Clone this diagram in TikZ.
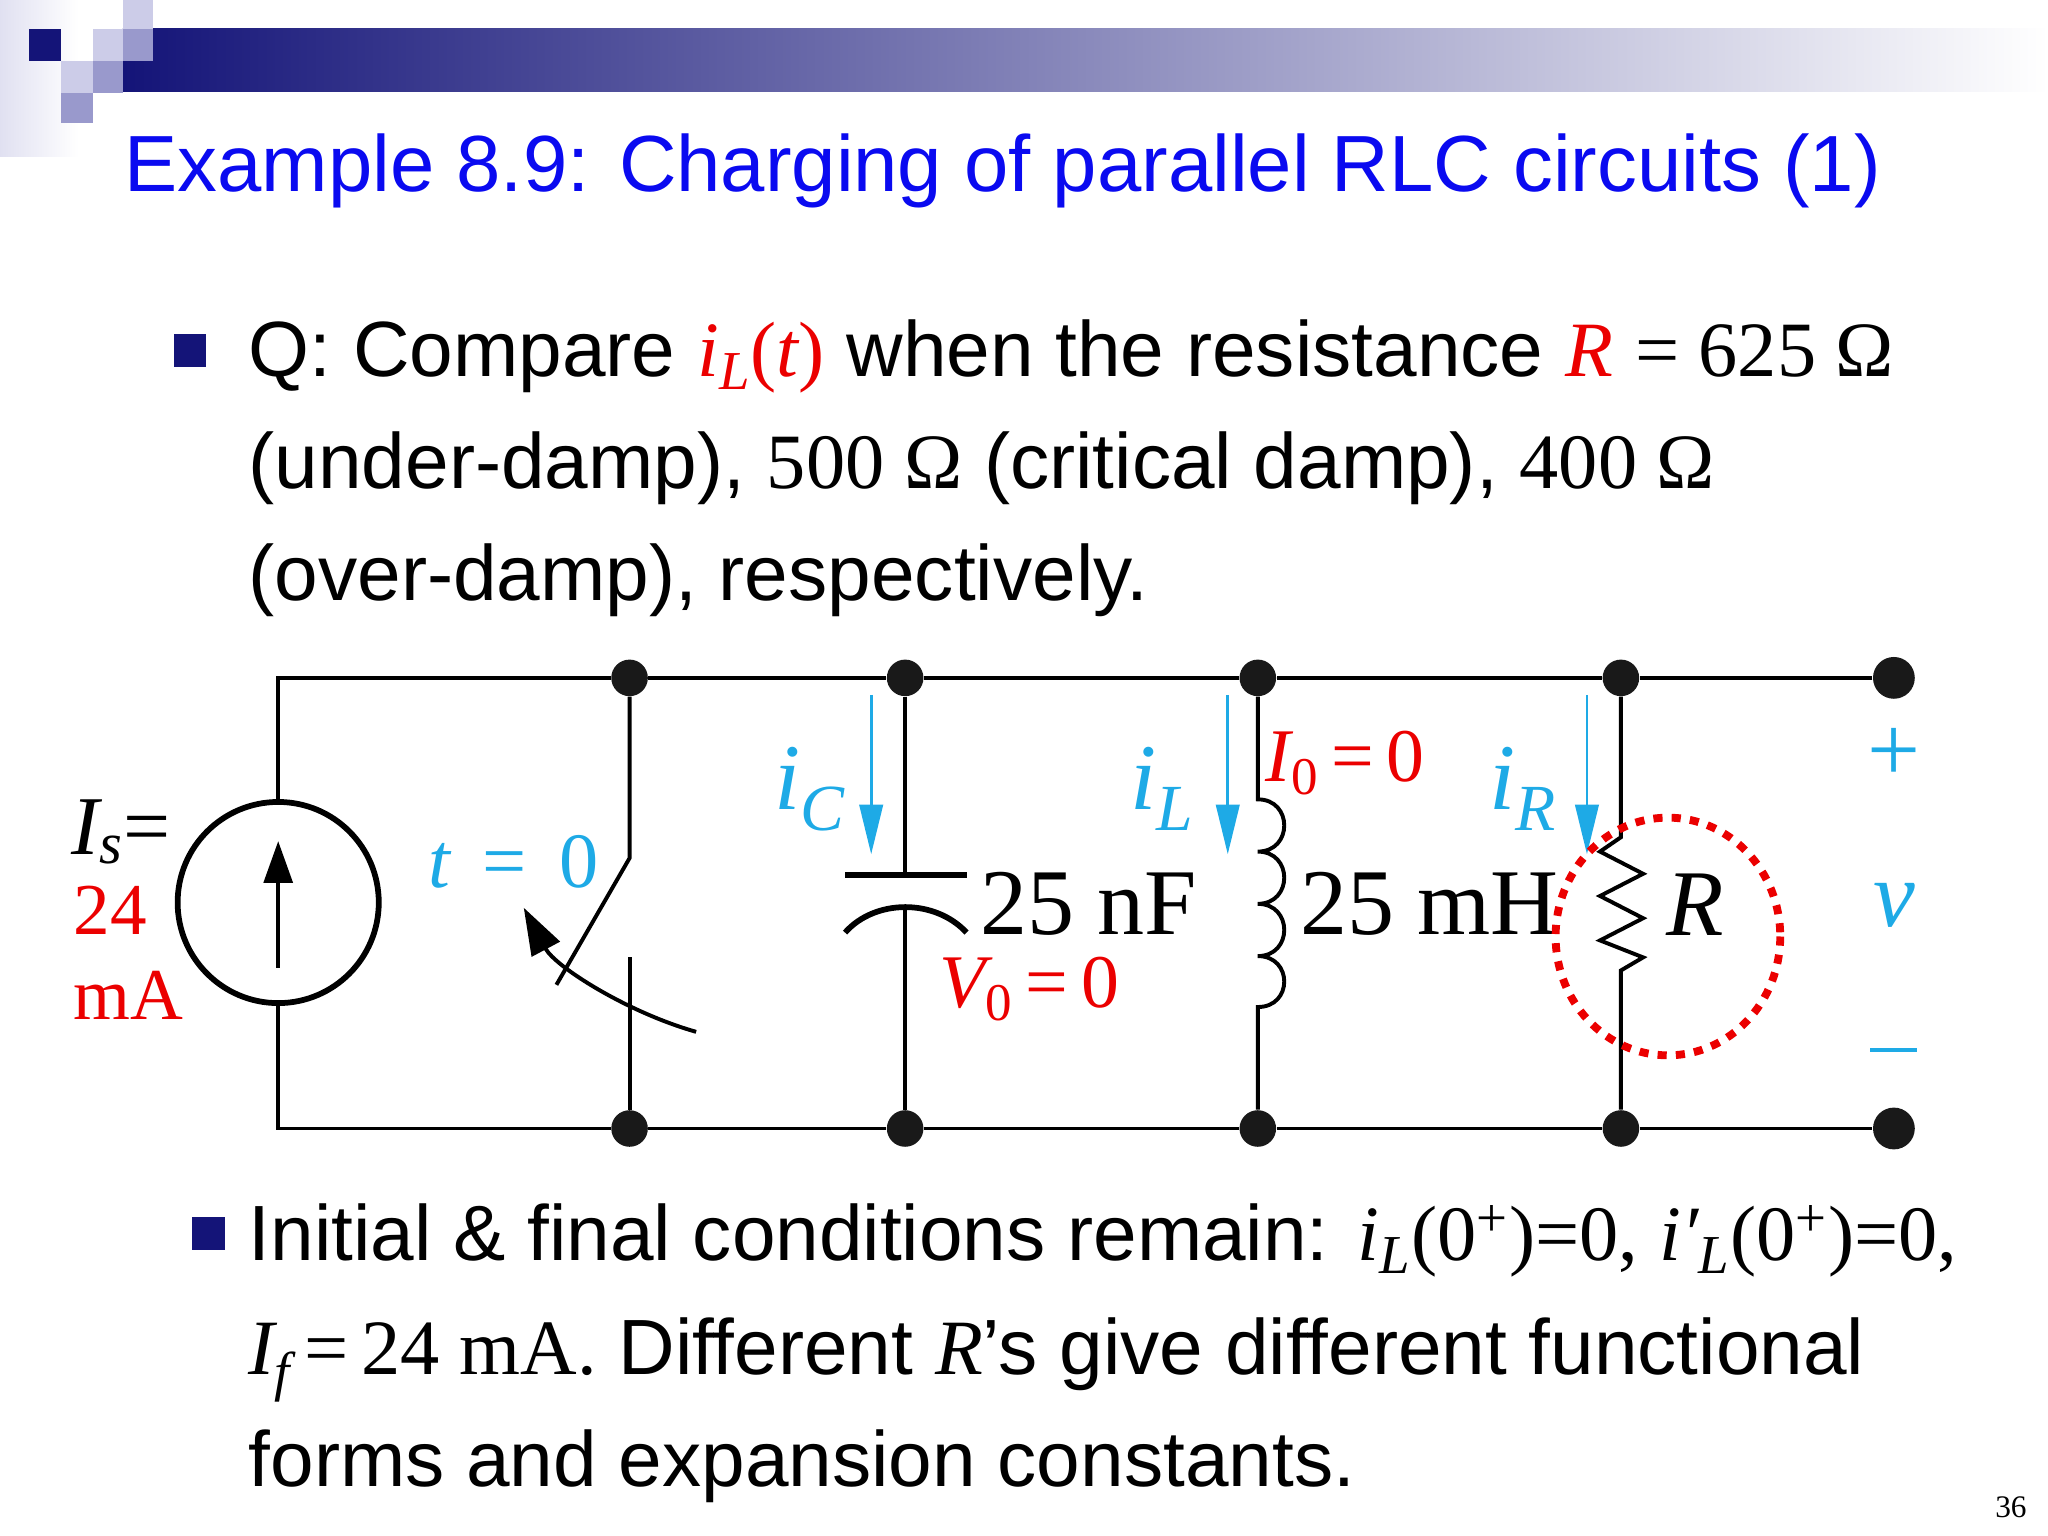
\documentclass[tikz,border=0pt]{standalone}
\usepackage{fontspec}
\setmainfont{Liberation Sans}
\newfontfamily\tnr{Liberation Serif}
\usetikzlibrary{arrows.meta}
\definecolor{navy}{RGB}{20,20,120}
\definecolor{lav}{RGB}{204,204,232}
\definecolor{lavm}{RGB}{153,153,204}
\definecolor{cy}{RGB}{30,170,230}
\definecolor{rd}{RGB}{235,0,0}
\definecolor{tblue}{RGB}{10,10,240}
\newcommand\ti[1]{{\tnr\itshape #1}}
\newcommand\tm[1]{{\tnr #1}}
\tikzset{
 wire/.style={line width=1.5pt,black},
 dot/.style={circle,fill=black!90,inner sep=0pt,minimum size=14pt},
 edot/.style={circle,fill=black!90,inner sep=0pt,minimum size=16pt},
 body/.style={anchor=base west,inner sep=0pt,font=\fontsize{30}{32}\selectfont},
 carr/.style={cy,line width=1pt,-{Triangle[length=19pt,width=9pt]}},
 clab/.style={inner sep=0pt,font=\fontsize{36}{36}\selectfont\tnr},
 bul/.style={fill=navy,draw=none}
}
\begin{document}
\begin{tikzpicture}[x=0.5pt,y=-0.5pt]
\useasboundingbox (0,0) rectangle (1568,1176);
% header
\shade[left color=lav!60,right color=white] (0,0) rectangle (60,120);
\shade[left color=navy,right color=white] (94,22) rectangle (1568,70);
\fill[navy] (22,22) rectangle (47,47);
\fill[lav] (94,0) rectangle (117,22);
\fill[lav] (71,22) rectangle (94,47);
\fill[lavm] (94,22) rectangle (117,47);
\fill[lav] (47,47) rectangle (71,71);
\fill[lavm] (71,47) rectangle (94,71);
\fill[lavm] (47,71) rectangle (71,94);
\node[anchor=base west,inner sep=0pt,text=tblue,font=\fontsize{30.5}{32}\selectfont] (title) at (95,147) {Example 8.9: Charging of parallel RLC circuits (1)};
% bullets
\fill[bul] (133,256) rectangle (158,281);
\node[body] (l1) at (190,288) {Q: Compare \textcolor{rd}{\ti{i}\textsubscript{\ti{L}}\tm{(}\ti{t}\tm{)}} when the resistance \textcolor{rd}{\ti{R}} \tm{= 625 Ω}};
\node[body] (l2) at (190,374) {(under-damp), \tm{500 Ω} (critical damp), \tm{400 Ω}};
\node[body] (l3) at (190,460) {(over-damp), respectively.};
\fill[bul] (147,932) rectangle (172,957);
\node[body] (l4) at (190,965) {Initial \& final conditions remain: \ti{i}\textsubscript{\ti{L}}\tm{(0\textsuperscript{+})=0,} \ti{i′}\textsubscript{\ti{L}}\tm{(0\textsuperscript{+})=0,}};
\node[body] (l5) at (190,1052) {\ti{I}\textsubscript{\ti{f}}\tm{\,=\,24 mA.} Different \ti{R}’s give different functional};
\node[body] (l6) at (190,1138) {forms and expansion constants.};
\node[anchor=base east,inner sep=0pt,font=\fontsize{12}{12}\selectfont\tnr] (pg) at (1552,1162) {36};
% circuit coordinates
\coordinate (tl) at (213,519); \coordinate (bl) at (213,864);
\node[dot] (t1) at (482,519) {}; \node[dot] (b1) at (482,864) {};
\node[dot] (t2) at (693,519) {}; \node[dot] (b2) at (693,864) {};
\node[dot] (t3) at (963,519) {}; \node[dot] (b3) at (963,864) {};
\node[dot] (t4) at (1241,519) {}; \node[dot] (b4) at (1241,864) {};
\node[edot] (t5) at (1450,519) {}; \node[edot] (b5) at (1450,864) {};
\draw[wire] (t5) -- (t4) -- (t3) -- (t2) -- (t1) -- (tl) -- (213,614);
\draw[wire] (213,768) -- (bl) -- (b1) -- (b2) -- (b3) -- (b4) -- (b5);
% source
\node[circle,draw,line width=2.2pt,minimum size=77pt,inner sep=0pt] (src) at (213,691) {};
\draw[line width=1.5pt,-{Triangle[length=16pt,width=11pt]}] (213,741) -- (213,644);
% switch
\draw[wire] (t1) -- (482,657) -- (426,754);
\draw[wire] (482,733) -- (b1);
\draw[line width=1.5pt,-{Triangle[length=18pt,width=12pt]}] (533,790) .. controls (480,775) and (425,740) .. (401,695);
\node[inner sep=0pt,text=cy,font=\fontsize{30}{30}\selectfont\tnr] (t0) at (393,660) {\ti{t}\, =\, 0};
% capacitor
\draw[wire] (t2) -- (693,670);
\draw[line width=2.2pt] (647,670) -- (740,670);
\draw[line width=2.2pt] (647,714) .. controls (670,688) and (716,688) .. (740,714);
\draw[wire] (693,696) -- (b2);
\draw[carr] (667,532) -- (667,654);
\node[clab,text=cy] (ic) at (620,604) {\ti{i}\textsubscript{\ti{C}}};
\node[clab,anchor=west] (cval) at (750,692) {25 nF};
\node[inner sep=0pt,text=rd,font=\fontsize{29}{29}\selectfont\tnr] (v0) at (788,757) {\ti{V}\textsubscript{0}\,=\,0};
% inductor
\draw[wire] (t3) -- (963,612) .. controls (990,612) and (990,652) .. (963,652)
  .. controls (990,652) and (990,692) .. (963,692)
  .. controls (990,692) and (990,732) .. (963,732)
  .. controls (990,732) and (990,771) .. (963,771) -- (b3);
\draw[carr] (940,532) -- (940,654);
\node[clab,text=cy] (il) at (890,604) {\ti{i}\textsubscript{\ti{L}}};
\node[clab,anchor=west] (lval) at (995,692) {25 mH};
\node[inner sep=0pt,text=rd,font=\fontsize{29}{29}\selectfont\tnr] (i0) at (1030,584) {\ti{I}\textsubscript{0}\,=\,0};
% resistor
\draw[wire] (t4) -- (1241,641) -- (1225,652) -- (1258,669) -- (1225,686) -- (1258,703) -- (1225,720) -- (1258,733) -- (1241,743) -- (b4);
\draw[carr] (1215,532) -- (1215,654);
\node[clab,text=cy] (ir) at (1166,604) {\ti{i}\textsubscript{\ti{R}}};
\node[clab] (rl) at (1298,693) {\ti{R}};
\draw[rd,line width=3pt,dash pattern=on 3.5pt off 3.5pt] (1277,717) ellipse [x radius=86,y radius=91];
% v labels
\node[clab,text=cy] (plus) at (1450,578) {+};
\node[clab,text=cy] (vv) at (1450,693) {\ti{v}};
\draw[cy,line width=1.5pt] (1432,804) -- (1468,804);
% Is
\node[inner sep=0pt,font=\fontsize{32}{32}\selectfont\tnr] (is) at (93,637) {\ti{I}\textsubscript{\ti{s}}=};
\node[inner sep=0pt,anchor=west,text=rd,font=\fontsize{28}{28}\selectfont\tnr] (i24) at (56,697) {24};
\node[inner sep=0pt,anchor=west,text=rd,font=\fontsize{28}{28}\selectfont\tnr] (ma) at (56,762) {mA};
\end{tikzpicture}
\end{document}
